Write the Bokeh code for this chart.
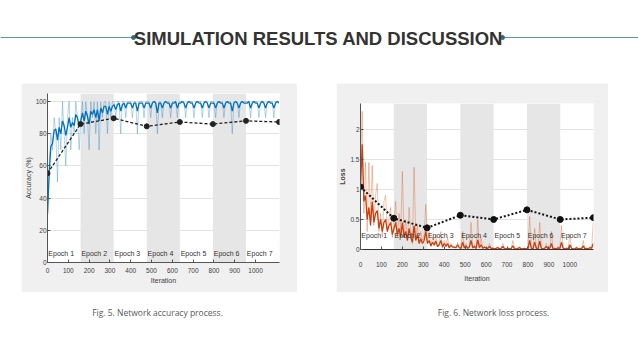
from bokeh.plotting import figure
from bokeh.models import Range1d, Spacer, FixedTicker
from bokeh.layouts import column, row
from bokeh.embed import file_html
from bokeh.resources import INLINE
from bokeh.core.properties import value

# ---------------- data ----------------
STEP = 8  # iteration spacing of the sampled training values
epoch_len = 159
n_epochs = 7
epoch_labels = ["Epoch 1", "Epoch 2", "Epoch 3", "Epoch 4", "Epoch 5", "Epoch 6", "Epoch 7"]
x_ticks = [0, 100, 200, 300, 400, 500, 600, 700, 800, 900, 1000]
acc_y_ticks = [0, 20, 40, 60, 80, 100]
loss_y_ticks = [0, 0.5, 1, 1.5, 2]
loss_tick_labels = {0: "0", 0.5: "0.5", 1: "1", 1.5: "1.5", 2: "2"}

acc_raw = [
    30, 60, 80, 70, 90, 80, 50, 90, 70, 100, 80, 60, 90, 100, 70, 90, 80, 100, 90, 70,
    90, 100, 80, 100, 90, 70, 100, 90, 100, 80, 100, 70, 100, 90, 100, 100, 80, 100, 90, 100,
    100, 90, 100, 100, 80, 100, 100, 90, 100, 100, 100, 90, 100, 100, 80, 100, 100, 100, 90, 100,
    100, 100, 90, 100, 100, 100, 80, 100, 100, 90, 100, 100, 100, 100, 90, 100, 100, 100, 90, 100,
    100, 100, 100, 90, 100, 100, 100, 100, 90, 100, 100, 100, 100, 90, 100, 100, 100, 90, 100, 100,
    100, 90, 100, 100, 100, 100, 90, 100, 100, 100, 100, 80, 100, 100, 100, 90, 100, 100, 100, 100,
    100, 100, 90, 100, 100, 100, 100, 90, 100, 100, 100, 90, 100, 100, 100, 100, 90, 100, 100, 100,
]
acc_smooth = [
    30, 55, 72, 74, 82, 83, 76, 84, 80, 88, 85, 79, 84, 90, 84, 87, 85, 92, 90, 85,
    88, 93, 88, 94, 91, 86, 94, 92, 95, 90, 95, 88, 96, 93, 97, 97, 92, 97, 94, 97,
    98, 95, 98, 99, 94, 98, 99, 96, 99, 99, 99, 96, 99, 99, 94, 99, 99, 99, 96, 99,
    99, 99, 96, 99, 100, 99, 93, 99, 99, 96, 99, 100, 99, 99, 96, 99, 99, 100, 96, 99,
    99, 100, 99, 96, 99, 100, 99, 99, 96, 99, 100, 99, 99, 96, 99, 100, 99, 96, 99, 99,
    99, 96, 99, 100, 99, 99, 96, 99, 100, 99, 99, 94, 99, 100, 99, 96, 99, 100, 99, 99,
    99, 100, 96, 99, 100, 99, 99, 96, 99, 100, 99, 96, 99, 100, 99, 99, 96, 99, 100, 99,
]
val_iters = [0, 159, 318, 477, 636, 795, 954, 1113]
acc_val = [55.4, 86.0, 89.6, 84.6, 87.3, 86.0, 88.0, 87.3]

loss_raw = [
    1.3, 2.3, 0.6, 1.45, 0.3, 1.45, 0.5, 1.4, 0.4, 0.9, 1.1, 0.3, 0.6, 0.2, 0.8, 0.9, 0.3, 0.5, 0.7, 0.2,
    0.5, 0.8, 0.2, 0.6, 0.3, 1.3, 0.2, 0.5, 0.15, 0.7, 0.3, 0.1, 1.37, 0.2, 0.4, 0.1, 0.3, 0.15, 0.25, 0.75,
    0.1, 0.3, 0.05, 0.2, 0.08, 0.25, 0.04, 0.1, 0.3, 0.03, 0.15, 0.05, 0.2, 0.02, 0.1, 0.04, 0.05, 0.02, 0.12, 0.03,
    0.02, 0.3, 0.03, 0.1, 0.02, 0.05, 0.45, 0.02, 0.08, 0.01, 0.5, 0.03, 0.2, 0.01, 0.05, 0.02, 0.02, 0.1, 0.01, 0.03,
    0.01, 0.02, 0.05, 0.01, 0.02, 0.1, 0.01, 0.01, 0.03, 0.01, 0.02, 0.15, 0.01, 0.01, 0.02, 0.05, 0.01, 0.01, 0.02, 0.01,
    0.01, 0.55, 0.02, 0.01, 0.35, 0.02, 0.01, 0.45, 0.03, 0.01, 0.02, 0.1, 0.01, 0.02, 0.3, 0.01, 0.02, 0.01, 0.05, 0.01,
    0.4, 0.02, 0.01, 0.03, 0.01, 0.25, 0.02, 0.01, 0.01, 0.05, 0.01, 0.02, 0.01, 0.15, 0.01, 0.02, 0.01, 0.05, 0.02, 0.45,
]
loss_smooth = [
    1.0, 1.75, 0.8, 0.9, 0.5, 0.7, 0.4, 0.8, 0.45, 0.6, 0.65, 0.35, 0.5, 0.3, 0.45, 0.5, 0.3, 0.4, 0.45, 0.25,
    0.35, 0.45, 0.25, 0.35, 0.2, 0.45, 0.2, 0.3, 0.15, 0.35, 0.2, 0.12, 0.4, 0.15, 0.25, 0.1, 0.18, 0.1, 0.15, 0.3,
    0.1, 0.15, 0.06, 0.12, 0.07, 0.14, 0.05, 0.08, 0.15, 0.04, 0.1, 0.05, 0.1, 0.03, 0.07, 0.04, 0.04, 0.03, 0.08, 0.03,
    0.02, 0.12, 0.03, 0.06, 0.02, 0.04, 0.15, 0.03, 0.05, 0.02, 0.16, 0.03, 0.08, 0.02, 0.04, 0.02, 0.02, 0.05, 0.02, 0.02,
    0.01, 0.02, 0.03, 0.01, 0.02, 0.05, 0.01, 0.01, 0.02, 0.01, 0.02, 0.06, 0.01, 0.01, 0.02, 0.03, 0.01, 0.01, 0.02, 0.01,
    0.01, 0.15, 0.02, 0.01, 0.12, 0.02, 0.01, 0.14, 0.02, 0.01, 0.02, 0.05, 0.01, 0.02, 0.1, 0.01, 0.02, 0.01, 0.03, 0.01,
    0.12, 0.02, 0.01, 0.02, 0.01, 0.08, 0.02, 0.01, 0.01, 0.03, 0.01, 0.02, 0.01, 0.06, 0.01, 0.02, 0.01, 0.03, 0.02, 0.1,
]
loss_val = [1.04, 0.52, 0.36, 0.57, 0.50, 0.66, 0.50, 0.53]

title_text = "SIMULATION RESULTS AND DISCUSSION"
caption_left = "Fig. 5. Network accuracy process."
caption_right = "Fig. 6. Network loss process."

# ---------------- helpers ----------------
FONT = "Liberation Sans"
PANEL = "#f0f0f0"


def iters_for(vals):
    return list(range(0, STEP * len(vals), STEP))


def decor_fig(w, h):
    p = figure(width=w, height=h, x_range=Range1d(0, w), y_range=Range1d(0, h),
               output_backend="svg", toolbar_location=None, min_border=0)
    p.axis.visible = False
    p.grid.visible = False
    p.outline_line_color = None
    p.background_fill_color = "white"
    p.border_fill_color = "white"
    return p


def chart(w, h, xmax, ymin, ymax, yticks, ylabel, mb):
    p = figure(width=w, height=h, x_range=Range1d(0, xmax), y_range=Range1d(ymin, ymax),
               output_backend="svg", toolbar_location=None,
               min_border_left=mb[0], min_border_right=mb[1],
               min_border_top=mb[2], min_border_bottom=mb[3])
    p.border_fill_color = PANEL
    p.background_fill_color = "white"
    p.outline_line_color = None
    p.xgrid.visible = False
    p.ygrid.ticker = FixedTicker(ticks=yticks)
    p.ygrid.grid_line_color = "#e2e2e2"
    p.xaxis.ticker = FixedTicker(ticks=x_ticks)
    p.yaxis.ticker = FixedTicker(ticks=yticks)
    for ax in (p.xaxis[0], p.yaxis[0]):
        ax.major_tick_in = 3
        ax.major_tick_out = 0
        ax.minor_tick_line_color = None
        ax.axis_line_color = "#555555"
        ax.major_tick_line_color = "#555555"
        ax.major_label_text_font = FONT
        ax.major_label_text_font_size = "6.5px"
        ax.major_label_text_color = "#404040"
        ax.axis_label_text_font = FONT
        ax.axis_label_text_font_size = "7px"
        ax.axis_label_text_font_style = "normal"
        ax.axis_label_text_color = "#404040"
        ax.major_label_standoff = 1
        ax.axis_label_standoff = 1
    p.xaxis.axis_label = "Iteration"
    p.yaxis.axis_label = ylabel
    # shaded alternate epochs
    lefts = [epoch_len * i for i in range(1, n_epochs, 2)]
    rights = [epoch_len * (i + 1) for i in range(1, n_epochs, 2)]
    p.quad(left=lefts, right=rights, bottom=0, top=ymax, fill_color="#e6e6e6", line_color=None)
    return p


def epoch_text(p, ypos):
    xs = [epoch_len * i + 4 for i in range(n_epochs)]
    p.text(x=xs, y=[ypos] * n_epochs, text=epoch_labels, text_font=value(FONT),
           text_font_size="7px", text_color="#333333", text_baseline="middle", text_align="left")


# ---------------- accuracy chart ----------------
pa = chart(276, 209, 1115, 0, 105, acc_y_ticks, "Accuracy (%)", (20, 18, 10, 30))
pa.xaxis.major_label_standoff = 5
pa.line(iters_for(acc_raw), acc_raw, line_color="#0072bd", line_alpha=0.3, line_width=1)
pa.line(iters_for(acc_smooth), acc_smooth, line_color="#0072bd", line_width=1.3)
pa.line(val_iters, acc_val, line_color="#222222", line_dash="3 2", line_width=1.3)
pa.scatter(val_iters, acc_val, size=5, marker="circle", fill_color="#222222", line_color="#222222")
epoch_text(pa, 5.5)

# ---------------- loss chart ----------------
pl = chart(272, 209, 1113, 0, 2.43, loss_y_ticks, "Loss", (17, 15, 20, 43))
pl.yaxis.major_label_overrides = loss_tick_labels
pl.yaxis.axis_label_text_font_style = "bold"
pl.xaxis.major_label_standoff = 12
pl.xaxis.axis_label_standoff = 5
pl.xaxis.axis_line_color = "#333333"
pl.line(iters_for(loss_raw), loss_raw, line_color="#d95319", line_alpha=0.35, line_width=1)
pl.line(iters_for(loss_smooth), loss_smooth, line_color="#c8400f", line_width=1.3)
pl.line(val_iters, loss_val, line_color="#111111", line_dash="2 2", line_width=2)
pl.scatter(val_iters, loss_val, size=6, marker="circle", fill_color="#111111", line_color="#111111")
epoch_text(pl, 0.23)

# ---------------- title & captions ----------------
pt = decor_fig(638, 83)
pt.segment(x0=[0, 502], y0=[46, 46], x1=[133, 638], y1=[46, 46], line_color="#5b98a5", line_width=1.2)
pt.scatter([133, 502], [46, 46], size=4, marker="circle", fill_color="#2f6f7d", line_color="#2f6f7d")
pt.text(x=[318], y=[45], text=[title_text], text_font=value(FONT), text_font_size="18.5px",
        text_font_style="bold", text_color="#333333", text_align="center", text_baseline="middle")

pc = decor_fig(638, 40)
pc.text(x=[157, 493], y=[20, 20], text=[caption_left, caption_right], text_font=value("Open Sans"),
        text_font_size="8.5px", text_color="#595959", text_align="center", text_baseline="middle")

layout = column(
    pt,
    row(Spacer(width=21, height=209), column(pa), Spacer(width=39, height=209), column(pl)),
    pc,
)

open("out.html", "w").write(file_html(layout, INLINE))
